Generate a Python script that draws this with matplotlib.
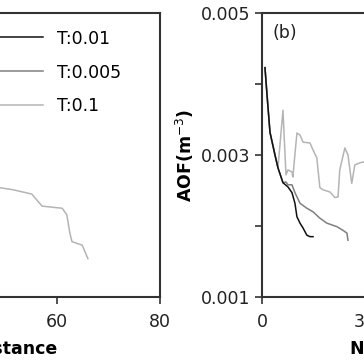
import matplotlib
matplotlib.use("Agg")
import matplotlib.pyplot as plt
from matplotlib.lines import Line2D

# ---- data ----
# panel (a): only the visible part of the T:0.1 curve
a_x_t01 = [48.9, 51.5, 55.1, 57.1, 61.0, 61.9, 62.5, 62.9, 64.9, 66.0]
a_y_t01 = [0.00254, 0.00251, 0.00245, 0.00228, 0.00225, 0.00216, 0.00190, 0.00178, 0.00173, 0.00154]

# panel (b)
b_x_t001 = [0.87, 1.46, 2.33, 3.79, 4.66, 6.12, 7.58, 8.75, 9.62, 10.2, 11.1, 12.0, 13.1, 14.0, 14.9]
b_y_t001 = [0.00423, 0.00385, 0.00332, 0.00300, 0.00282, 0.00261, 0.00255, 0.00247, 0.00232,
            0.00213, 0.00204, 0.00197, 0.00187, 0.00185, 0.00185]

b_x_t0005 = [0.87, 1.46, 2.33, 3.79, 4.66, 6.12, 7.0, 7.58, 8.75, 9.62, 11.1, 13.1, 14.9, 16.9,
             18.95, 21.9, 23.6, 24.8, 25.1]
b_y_t0005 = [0.00423, 0.00385, 0.00332, 0.00300, 0.00282, 0.00261, 0.00262, 0.00258, 0.00258,
             0.00247, 0.00232, 0.00225, 0.00220, 0.00211, 0.00204, 0.00199, 0.00194, 0.00190, 0.00180]

b_x_t01 = [0.87, 1.46, 2.33, 3.79, 4.66, 6.12, 7.0, 7.58, 8.75, 9.0, 10.2, 11.1, 12.0, 14.0, 14.9,
           16.0, 16.9, 17.8, 19.8, 21.3, 22.2, 22.7, 24.2, 25.1, 26.2, 27.1, 28.6, 29.4, 31.0]
b_y_t01 = [0.00423, 0.00385, 0.00332, 0.00300, 0.00282, 0.00363, 0.00272, 0.00279, 0.00276,
           0.00269, 0.00331, 0.00328, 0.00318, 0.00317, 0.00307, 0.00296, 0.00254, 0.00251,
           0.00248, 0.00240, 0.00241, 0.00279, 0.00310, 0.00300, 0.00260, 0.00286, 0.00289,
           0.00290, 0.00290]

legend_labels = ["T:0.01", "T:0.005", "T:0.1"]
colors = ["#111111", "#7f7f7f", "#b4b4b4"]

a_xticks = [0, 20, 40, 60, 80]
b_xticks = [0, 30, 60]
b_yticks = [0.001, 0.002, 0.003, 0.004, 0.005]
b_yticklabels = ["0.001", "", "0.003", "", "0.005"]

plt.rcParams["font.family"] = ["DejaVu Sans"]
FS = 12.5
SPC = "#333333"

fig = plt.figure(figsize=(3.64, 3.64), dpi=100)
W = 364.0

def fx(px):
    return px / W

def fy(py):
    return 1 - py / W

bottom = fy(297)
height = fy(13) - bottom

ax1 = fig.add_axes([fx(-252), bottom, fx(412), height])
ax2 = fig.add_axes([fx(262), bottom, fx(274), height])

for ax in (ax1, ax2):
    for s in ax.spines.values():
        s.set_linewidth(1.5)
        s.set_color(SPC)
    ax.tick_params(direction="out", length=5, width=1.2, color=SPC,
                   labelsize=FS, pad=3.5, labelcolor="#222222")
    ax.tick_params(axis="x", pad=6.5)

# panel (a)
ax1.plot(a_x_t01, a_y_t01, color=colors[2], lw=1.1)
ax1.set_xlim(0, 80)
ax1.set_ylim(0.001, 0.005)
ax1.set_xticks(a_xticks)
ax1.set_yticks(b_yticks)
ax1.set_yticklabels(b_yticklabels)
ax1.set_xlabel("Distance", fontsize=FS, fontweight="bold", ha="right")
ax1.xaxis.set_label_coords((58 + 252) / 412, -0.15)

handles = [Line2D([], [], color=c, lw=1.1) for c in colors]
ax1.legend(handles, legend_labels, loc="center left", frameon=False,
           bbox_to_anchor=(fx(-9), fy(72.5)), bbox_transform=fig.transFigure,
           fontsize=FS, handlelength=3.0, handletextpad=0.8, labelspacing=0.92,
           borderpad=0, borderaxespad=0)

# panel (b)
ax2.plot(b_x_t01, b_y_t01, color=colors[2], lw=1.1)
ax2.plot(b_x_t0005, b_y_t0005, color=colors[1], lw=1.1)
ax2.plot(b_x_t001, b_y_t001, color=colors[0], lw=1.1)
ax2.set_xlim(0, 80)
ax2.set_ylim(0.001, 0.005)
ax2.set_xticks(b_xticks)
ax2.set_yticks(b_yticks)
ax2.set_yticklabels(b_yticklabels)
ax2.set_ylabel("AOF(m$^{-3}$)", fontsize=FS, fontweight="bold")
ax2.yaxis.set_label_coords(-0.24, 0.5)
ax2.set_xlabel("Number", fontsize=FS, fontweight="bold", ha="left")
ax2.xaxis.set_label_coords((349 - 262) / 274, -0.15)
ax2.text(0.04, 0.93, "(b)", transform=ax2.transAxes, fontsize=FS,
         ha="left", va="center", color="#222222")

fig.savefig("out.png", dpi=100)
